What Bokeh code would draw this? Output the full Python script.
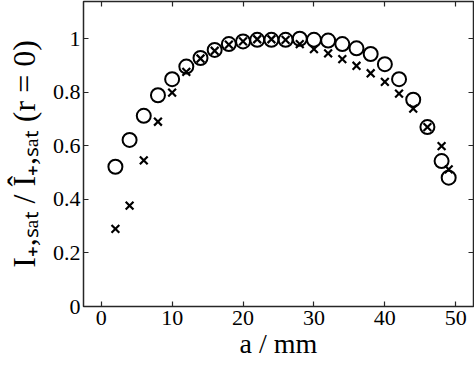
from bokeh.plotting import figure
from bokeh.models import Range1d, LinearAxis, FixedTicker
from bokeh.embed import file_html
from bokeh.resources import INLINE

# ---- data ----
a_mm = [2, 4, 6, 8, 10, 12, 14, 16, 18, 20, 22, 24, 26, 28, 30, 32, 34, 36, 38, 40, 42, 44, 46, 48, 49]
ratio_circle = [0.522, 0.622, 0.712, 0.789, 0.849, 0.896, 0.928, 0.958, 0.980, 0.990, 0.996, 0.996, 0.996,
                1.000, 0.996, 0.993, 0.980, 0.964, 0.943, 0.905, 0.849, 0.772, 0.670, 0.543, 0.481]
ratio_cross = [0.290, 0.377, 0.546, 0.690, 0.799, 0.876, 0.926, 0.955, 0.978, 0.990, 0.998, 0.998, 0.996,
               0.980, 0.961, 0.945, 0.924, 0.899, 0.871, 0.839, 0.795, 0.739, 0.670, 0.599, 0.512]
x_ticks = [0, 10, 20, 30, 40, 50]
x_tick_labels = ["0", "10", "20", "30", "40", "50"]
y_ticks = [0, 0.2, 0.4, 0.6, 0.8, 1]
y_tick_labels = ["0", "0.2", "0.4", "0.6", "0.8", "1"]
x_title = "a / mm"
y_title = "I\u208a,\u209b\u2090\u209c / \u00ce\u208a,\u209b\u2090\u209c (r = 0)"

FONT = "Liberation Serif"
AX = "#262626"

W, H = 474, 366
p = figure(width=W, height=H, output_backend="svg", toolbar_location=None,
           x_range=Range1d(-2.5, 52.5), y_range=Range1d(0, 1.139),
           min_border_left=83, min_border_right=1, min_border_top=1, min_border_bottom=60,
           x_axis_type=None, y_axis_type=None)
p.background_fill_color = "white"
p.border_fill_color = "white"
p.outline_line_color = AX
p.outline_line_width = 1.5
p.xgrid.visible = False
p.ygrid.visible = False


def make_axis(ticks, labels, show):
    ax = LinearAxis(ticker=FixedTicker(ticks=ticks))
    ax.major_tick_in = 5
    ax.major_tick_out = 0
    ax.minor_tick_line_color = None
    ax.major_tick_line_color = AX
    ax.major_tick_line_width = 1.2
    ax.axis_line_color = None
    ax.major_label_text_font = FONT
    ax.major_label_text_color = "black"
    ax.axis_label_text_font = FONT
    ax.axis_label_text_color = "black"
    ax.axis_label_text_font_style = "normal"
    if show:
        ax.major_label_overrides = {t: l for t, l in zip(ticks, labels)}
        ax.major_label_text_font_size = "22px"
    else:
        ax.major_label_overrides = {t: "" for t in ticks}
        ax.major_label_text_font_size = "1px"
        ax.major_label_standoff = 0
    return ax


bx = make_axis(x_ticks, x_tick_labels, True)
bx.major_label_standoff = 4
bx.axis_label = x_title
bx.axis_label_text_font_size = "28px"
bx.axis_label_standoff = 0
p.add_layout(bx, "below")

ly = make_axis(y_ticks, y_tick_labels, True)
ly.major_label_standoff = 3
ly.axis_label = y_title
ly.axis_label_text_font_size = "32px"
ly.axis_label_standoff = 8
p.add_layout(ly, "left")

p.add_layout(make_axis(x_ticks, x_tick_labels, False), "above")
p.add_layout(make_axis(y_ticks, y_tick_labels, False), "right")

p.scatter(a_mm, ratio_circle, marker="circle", size=14, fill_color=None,
          line_color="black", line_width=2)
p.scatter(a_mm, ratio_cross, marker="x", size=11, line_color="black", line_width=2.2)

open("out.html", "w").write(file_html(p, INLINE))
